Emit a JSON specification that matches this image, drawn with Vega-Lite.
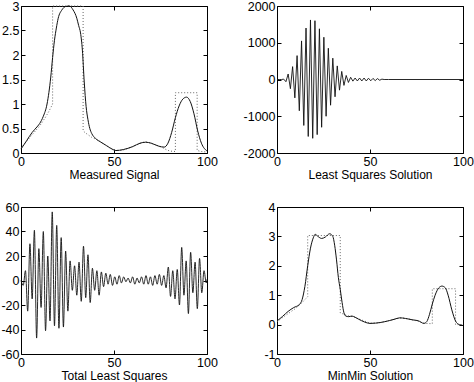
{
  "$schema": "https://vega.github.io/schema/vega-lite/v6.json",
  "padding": {"left": 0, "top": 0, "right": 0, "bottom": 0},
  "background": "white",
  "columns": 2,
  "spacing": {"row": 54, "column": 70},
  "bounds": "flush",
  "datasets": {
    "p1s": [
      {"x":0,"y":0.08},{"x":3,"y":0.25},{"x":6,"y":0.42},{"x":9,"y":0.55},{"x":10,"y":0.6},{"x":12,"y":0.75},{"x":14,"y":1.0},{"x":16,"y":1.55},{"x":17,"y":1.95},{"x":18,"y":2.3},{"x":19,"y":2.55},{"x":20,"y":2.75},{"x":22,"y":2.92},{"x":24,"y":2.99},{"x":26,"y":3.0},{"x":28,"y":2.92},{"x":30,"y":2.75},{"x":31,"y":2.6},{"x":32,"y":2.45},{"x":33,"y":2.1},{"x":34,"y":1.45},{"x":35,"y":0.95},{"x":36,"y":0.68},{"x":37,"y":0.5},{"x":38,"y":0.4},{"x":40,"y":0.3},{"x":43,"y":0.22},{"x":46,"y":0.15},{"x":49,"y":0.08},{"x":51,"y":0.05},{"x":55,"y":0.07},{"x":60,"y":0.13},{"x":64,"y":0.2},{"x":67,"y":0.22},{"x":70,"y":0.2},{"x":74,"y":0.14},{"x":77,"y":0.12},{"x":79,"y":0.2},{"x":81,"y":0.42},{"x":83,"y":0.72},{"x":85,"y":0.96},{"x":87,"y":1.1},{"x":89,"y":1.14},{"x":91,"y":1.05},{"x":93,"y":0.8},{"x":95,"y":0.45},{"x":97,"y":0.2},{"x":100,"y":0.04}
    ],
    "p1d": [
      {"i":0,"x":0,"y":0.1},{"i":1,"x":5,"y":0.33},{"i":2,"x":10,"y":0.55},{"i":3,"x":13,"y":0.72},{"i":4,"x":15,"y":0.85},{"i":5,"x":17,"y":1.0},{"i":6,"x":17,"y":3.0},{"i":7,"x":33.4,"y":3.0},{"i":8,"x":33.4,"y":0.45},{"i":9,"x":35,"y":0.4},{"i":10,"x":38,"y":0.32},{"i":11,"x":41,"y":0.27},{"i":12,"x":45,"y":0.17},{"i":13,"x":50,"y":0.05},{"i":14,"x":55,"y":0.06},{"i":15,"x":60,"y":0.13},{"i":16,"x":65,"y":0.21},{"i":17,"x":67,"y":0.23},{"i":18,"x":70,"y":0.2},{"i":19,"x":75,"y":0.13},{"i":20,"x":78,"y":0.07},{"i":21,"x":80,"y":0.04},{"i":22,"x":83,"y":0.03},{"i":23,"x":83,"y":1.23},{"i":24,"x":94.7,"y":1.23},{"i":25,"x":94.7,"y":0.05},{"i":26,"x":97,"y":0.03},{"i":27,"x":100,"y":0.02}
    ],
    "p2": [
      {"x":0,"y":0},{"x":1.2,"y":0},{"x":2.4,"y":0},{"x":3.6,"y":10},{"x":4.8,"y":-60},{"x":6.0,"y":150},{"x":7.2,"y":-250},{"x":8.4,"y":350},{"x":9.6,"y":-500},{"x":10.8,"y":650},{"x":12.0,"y":-850},{"x":13.2,"y":1050},{"x":14.4,"y":-1250},{"x":15.6,"y":1400},{"x":16.8,"y":-1550},{"x":18.0,"y":1620},{"x":19.2,"y":-1600},{"x":20.4,"y":1600},{"x":21.6,"y":-1500},{"x":22.8,"y":1380},{"x":24.0,"y":-1300},{"x":25.2,"y":1150},{"x":26.4,"y":-1000},{"x":27.6,"y":850},{"x":28.8,"y":-700},{"x":30.0,"y":580},{"x":31.2,"y":-470},{"x":32.4,"y":370},{"x":33.6,"y":-290},{"x":34.8,"y":220},{"x":36.0,"y":-160},{"x":37.2,"y":110},{"x":38.4,"y":-80},{"x":39.6,"y":60},{"x":40.8,"y":-45},{"x":42.0,"y":40},{"x":43.2,"y":-40},{"x":44.4,"y":40},{"x":45.6,"y":-40},{"x":46.8,"y":40},{"x":48.0,"y":-40},{"x":49.2,"y":35},{"x":50.4,"y":-35},{"x":51.6,"y":30},{"x":52.8,"y":-30},{"x":54.0,"y":25},{"x":55.2,"y":-20},{"x":56.4,"y":10},{"x":57.6,"y":0},{"x":60,"y":0},{"x":100,"y":0}
    ],
    "p3": [
      {"x":0,"y":0},{"x":1.2,"y":-4},{"x":2.4,"y":8},{"x":3.6,"y":-25},{"x":4.8,"y":30},{"x":6.0,"y":-15},{"x":7.2,"y":41},{"x":8.4,"y":-47},{"x":9.6,"y":26},{"x":10.8,"y":-22},{"x":12.0,"y":40},{"x":13.2,"y":-41},{"x":14.4,"y":20},{"x":15.6,"y":-33},{"x":16.8,"y":56},{"x":18.0,"y":-37},{"x":19.2,"y":45},{"x":20.4,"y":-39},{"x":21.6,"y":35},{"x":22.8,"y":-38},{"x":24.0,"y":24},{"x":25.2,"y":-25},{"x":26.4,"y":16},{"x":27.6,"y":-8},{"x":28.8,"y":12},{"x":30.0,"y":-12},{"x":31.2,"y":15},{"x":32.4,"y":-17},{"x":33.6,"y":28},{"x":34.8,"y":-14},{"x":36.0,"y":21},{"x":37.2,"y":-18},{"x":38.4,"y":10},{"x":39.6,"y":-8},{"x":40.8,"y":8},{"x":42.0,"y":-12},{"x":43.2,"y":7},{"x":44.4,"y":-5},{"x":45.6,"y":6},{"x":46.8,"y":-3},{"x":48.0,"y":5},{"x":49.2,"y":-4},{"x":50.4,"y":3},{"x":51.6,"y":-3},{"x":52.8,"y":4},{"x":54.0,"y":-2},{"x":55.2,"y":3},{"x":56.4,"y":-1},{"x":57.6,"y":2},{"x":58.8,"y":-2},{"x":60.0,"y":3},{"x":61.2,"y":-3},{"x":62.4,"y":2},{"x":63.6,"y":-2},{"x":64.8,"y":3},{"x":66.0,"y":-3},{"x":67.2,"y":4},{"x":68.4,"y":-3},{"x":69.6,"y":3},{"x":70.8,"y":-4},{"x":72.0,"y":4},{"x":73.2,"y":-3},{"x":74.4,"y":5},{"x":75.6,"y":-4},{"x":76.8,"y":4},{"x":78.0,"y":-6},{"x":79.2,"y":11},{"x":80.4,"y":-13},{"x":81.6,"y":8},{"x":82.8,"y":-15},{"x":84.0,"y":9},{"x":85.2,"y":-20},{"x":86.4,"y":27},{"x":87.6,"y":-12},{"x":88.8,"y":16},{"x":90.0,"y":-27},{"x":91.2,"y":23},{"x":92.4,"y":-10},{"x":93.6,"y":15},{"x":94.8,"y":-23},{"x":96.0,"y":18},{"x":97.2,"y":-10},{"x":98.4,"y":8},{"x":99.6,"y":-2},{"x":100,"y":1}
    ],
    "p4s": [
      {"x":0,"y":0.12},{"x":3,"y":0.28},{"x":6,"y":0.45},{"x":9,"y":0.58},{"x":12,"y":0.68},{"x":13.5,"y":0.85},{"x":15,"y":1.3},{"x":16.5,"y":2.0},{"x":18,"y":2.6},{"x":19.5,"y":2.95},{"x":20.5,"y":3.07},{"x":22,"y":3.0},{"x":24,"y":2.93},{"x":26,"y":2.98},{"x":28.3,"y":3.09},{"x":30,"y":3.0},{"x":31,"y":2.7},{"x":32,"y":2.2},{"x":33,"y":1.6},{"x":34,"y":1.2},{"x":35,"y":0.75},{"x":36,"y":0.4},{"x":37,"y":0.29},{"x":38.5,"y":0.27},{"x":40.3,"y":0.29},{"x":42,"y":0.25},{"x":44,"y":0.18},{"x":47,"y":0.09},{"x":50,"y":0.04},{"x":53,"y":0.05},{"x":58,"y":0.1},{"x":63,"y":0.18},{"x":66,"y":0.23},{"x":69,"y":0.21},{"x":73,"y":0.16},{"x":76,"y":0.13},{"x":79,"y":0.04},{"x":80.5,"y":0.1},{"x":82,"y":0.35},{"x":83.5,"y":0.7},{"x":85,"y":1.0},{"x":87,"y":1.25},{"x":88.7,"y":1.31},{"x":90.5,"y":1.25},{"x":92,"y":1.0},{"x":94,"y":0.5},{"x":96,"y":0.12},{"x":98,"y":0.0},{"x":100,"y":-0.03}
    ],
    "p4d": [
      {"i":0,"x":0,"y":0.1},{"i":1,"x":5,"y":0.33},{"i":2,"x":10,"y":0.55},{"i":3,"x":13,"y":0.72},{"i":4,"x":15,"y":0.85},{"i":5,"x":16.5,"y":0.95},{"i":6,"x":16.5,"y":3.03},{"i":7,"x":34,"y":3.03},{"i":8,"x":34,"y":0.4},{"i":9,"x":36,"y":0.35},{"i":10,"x":38,"y":0.3},{"i":11,"x":41,"y":0.27},{"i":12,"x":45,"y":0.17},{"i":13,"x":50,"y":0.05},{"i":14,"x":55,"y":0.06},{"i":15,"x":60,"y":0.13},{"i":16,"x":65,"y":0.21},{"i":17,"x":67,"y":0.23},{"i":18,"x":70,"y":0.2},{"i":19,"x":75,"y":0.13},{"i":20,"x":78,"y":0.07},{"i":21,"x":80,"y":0.04},{"i":22,"x":83.5,"y":0.03},{"i":23,"x":83.5,"y":1.22},{"i":24,"x":96,"y":1.22},{"i":25,"x":96,"y":0.0},{"i":26,"x":98,"y":0.0},{"i":27,"x":100,"y":0.0}
    ]
  },
  "concat": [
    {
      "width": 186, "height": 147,
      "layer": [
        {
          "data": {"name": "p1d"},
          "mark": {"type": "line", "color": "#666", "strokeWidth": 1, "strokeDash": [1, 2]},
          "encoding": {
            "x": {"field": "x", "type": "quantitative", "scale": {"domain": [0, 100]}, "axis": {"orient": "top", "labels": false, "title": null, "values": [0, 50, 100]}},
            "y": {"field": "y", "type": "quantitative", "scale": {"domain": [0, 3]}, "axis": {"orient": "right", "labels": false, "title": null, "values": [0, 0.5, 1, 1.5, 2, 2.5, 3]}},
            "order": {"field": "i"}
          }
        },
        {
          "data": {"name": "p1s"},
          "mark": {"type": "line", "color": "#111", "strokeWidth": 1, "interpolate": "monotone"},
          "encoding": {
            "x": {"field": "x", "type": "quantitative", "scale": {"domain": [0, 100]}, "axis": {"orient": "bottom", "title": "Measured Signal", "values": [0, 50, 100]}},
            "y": {"field": "y", "type": "quantitative", "scale": {"domain": [0, 3]}, "axis": {"orient": "left", "title": null, "values": [0, 0.5, 1, 1.5, 2, 2.5, 3]}}
          }
        }
      ],
      "resolve": {"axis": {"x": "independent", "y": "independent"}}
    },
    {
      "width": 186, "height": 147,
      "layer": [
        {
          "data": {"name": "p2"},
          "mark": {"type": "line", "strokeOpacity": 0, "strokeWidth": 1},
          "encoding": {
            "x": {"field": "x", "type": "quantitative", "scale": {"domain": [0, 100]}, "axis": {"orient": "top", "labels": false, "title": null, "values": [0, 50, 100]}},
            "y": {"field": "y", "type": "quantitative", "scale": {"domain": [-2000, 2000]}, "axis": {"orient": "right", "labels": false, "title": null, "values": [-2000, -1000, 0, 1000, 2000]}}
          }
        },
        {
          "data": {"name": "p2"},
          "mark": {"type": "line", "color": "#111", "strokeWidth": 0.9},
          "encoding": {
            "x": {"field": "x", "type": "quantitative", "scale": {"domain": [0, 100]}, "axis": {"orient": "bottom", "title": "Least Squares Solution", "values": [0, 50, 100]}},
            "y": {"field": "y", "type": "quantitative", "scale": {"domain": [-2000, 2000]}, "axis": {"orient": "left", "title": null, "values": [-2000, -1000, 0, 1000, 2000]}}
          }
        }
      ],
      "resolve": {"axis": {"x": "independent", "y": "independent"}}
    },
    {
      "width": 186, "height": 147,
      "layer": [
        {
          "data": {"name": "p3"},
          "mark": {"type": "line", "strokeOpacity": 0, "strokeWidth": 1},
          "encoding": {
            "x": {"field": "x", "type": "quantitative", "scale": {"domain": [0, 100]}, "axis": {"orient": "top", "labels": false, "title": null, "values": [0, 50, 100]}},
            "y": {"field": "y", "type": "quantitative", "scale": {"domain": [-60, 60]}, "axis": {"orient": "right", "labels": false, "title": null, "values": [-60, -40, -20, 0, 20, 40, 60]}}
          }
        },
        {
          "data": {"name": "p3"},
          "mark": {"type": "line", "color": "#111", "strokeWidth": 0.9, "interpolate": "monotone"},
          "encoding": {
            "x": {"field": "x", "type": "quantitative", "scale": {"domain": [0, 100]}, "axis": {"orient": "bottom", "title": "Total Least Squares", "values": [0, 50, 100]}},
            "y": {"field": "y", "type": "quantitative", "scale": {"domain": [-60, 60]}, "axis": {"orient": "left", "title": null, "values": [-60, -40, -20, 0, 20, 40, 60]}}
          }
        }
      ],
      "resolve": {"axis": {"x": "independent", "y": "independent"}}
    },
    {
      "width": 186, "height": 147,
      "layer": [
        {
          "data": {"name": "p4d"},
          "mark": {"type": "line", "color": "#666", "strokeWidth": 1, "strokeDash": [1, 2]},
          "encoding": {
            "x": {"field": "x", "type": "quantitative", "scale": {"domain": [0, 100]}, "axis": {"orient": "top", "labels": false, "title": null, "values": [0, 50, 100]}},
            "y": {"field": "y", "type": "quantitative", "scale": {"domain": [-1, 4]}, "axis": {"orient": "right", "labels": false, "title": null, "values": [-1, 0, 1, 2, 3, 4]}},
            "order": {"field": "i"}
          }
        },
        {
          "data": {"name": "p4s"},
          "mark": {"type": "line", "color": "#111", "strokeWidth": 1, "interpolate": "monotone"},
          "encoding": {
            "x": {"field": "x", "type": "quantitative", "scale": {"domain": [0, 100]}, "axis": {"orient": "bottom", "title": "MinMin Solution", "values": [0, 50, 100]}},
            "y": {"field": "y", "type": "quantitative", "scale": {"domain": [-1, 4]}, "axis": {"orient": "left", "title": null, "values": [-1, 0, 1, 2, 3, 4]}}
          }
        }
      ],
      "resolve": {"axis": {"x": "independent", "y": "independent"}}
    }
  ],
  "config": {
    "view": {"stroke": null},
    "axis": {
      "grid": false,
      "domainColor": "black",
      "tickColor": "black",
      "labelColor": "black",
      "titleColor": "black",
      "labelFont": "Liberation Sans",
      "titleFont": "Liberation Sans",
      "labelFontSize": 12.5,
      "titleFontSize": 12,
      "titleFontWeight": "normal",
      "labelExpr": "'' + datum.value",
      "tickSize": -4,
      "labelPadding": 6,
      "labelFlush": false,
      "labelOverlap": false,
      "titlePadding": 2
    }
  }
}
